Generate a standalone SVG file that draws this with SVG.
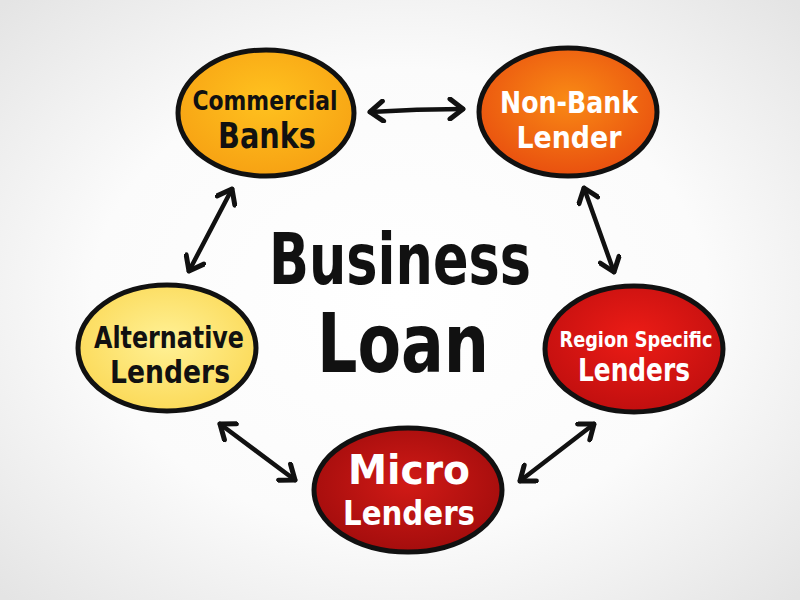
<svg xmlns="http://www.w3.org/2000/svg" width="800" height="600" viewBox="0 0 800 600">
<defs>
<radialGradient id="bg" cx="50%" cy="50%" r="70%">
<stop offset="0" stop-color="#ffffff"/><stop offset="0.55" stop-color="#fbfbfb"/><stop offset="1" stop-color="#e4e4e4"/>
</radialGradient>
<radialGradient id="gOrange" cx="50%" cy="40%" r="60%">
<stop offset="0" stop-color="#ffc21f"/><stop offset="1" stop-color="#f7a213"/>
</radialGradient>
<radialGradient id="gNonBank" cx="50%" cy="40%" r="60%">
<stop offset="0" stop-color="#f98a15"/><stop offset="1" stop-color="#e9500f"/>
</radialGradient>
<radialGradient id="gYellow" cx="50%" cy="45%" r="60%">
<stop offset="0" stop-color="#fff196"/><stop offset="1" stop-color="#fbd854"/>
</radialGradient>
<radialGradient id="gRed" cx="50%" cy="40%" r="60%">
<stop offset="0" stop-color="#ec1c16"/><stop offset="1" stop-color="#c10f0f"/>
</radialGradient>
<radialGradient id="gDark" cx="50%" cy="45%" r="60%">
<stop offset="0" stop-color="#d11a16"/><stop offset="1" stop-color="#a00c0c"/>
</radialGradient>
<marker id="head" viewBox="-16 -12 20 24" refX="0" refY="0" markerUnits="userSpaceOnUse" markerWidth="20" markerHeight="24" orient="auto-start-reverse">
<path d="M-13,-10 L0,0 L-13,10" fill="none" stroke="#111" stroke-width="5" stroke-linecap="round" stroke-linejoin="round"/>
</marker>
</defs>
<style>
.node{stroke:#111;stroke-width:5}
.t{font-family:"Liberation Sans Narrow","DejaVu Sans Condensed","Liberation Sans",sans-serif;font-weight:bold;text-anchor:middle}
.dark{fill:#111}
.light{fill:#ffffff}
.title{font-family:"Liberation Sans Narrow","DejaVu Sans Condensed","Liberation Sans",sans-serif;font-weight:bold;fill:#111;text-anchor:middle}
.arrow{fill:none;stroke:#111;stroke-width:4.5;stroke-linecap:round;marker-start:url(#head);marker-end:url(#head)}
</style>
<rect width="800" height="600" fill="url(#bg)"/>

<g id="connectors">
<path class="arrow" d="M370,112 Q417,109 463,109"/>
<path class="arrow" d="M232,189 L189,271"/>
<path class="arrow" d="M584,188 L614,272"/>
<path class="arrow" d="M220,424 L295,480"/>
<path class="arrow" d="M594,424 L520,481"/>
</g>

<g id="center">
<text class="title" x="400" y="284" font-size="72" textLength="262" lengthAdjust="spacingAndGlyphs">Business</text>
<text class="title" x="403" y="372" font-size="82" textLength="172" lengthAdjust="spacingAndGlyphs">Loan</text>
</g>

<g id="commercial-banks">
<ellipse class="node" cx="266" cy="113" rx="88" ry="63" fill="url(#gOrange)"/>
<text class="t dark" x="265" y="110" font-size="26" textLength="145" lengthAdjust="spacingAndGlyphs">Commercial</text>
<text class="t dark" x="267" y="148" font-size="36" textLength="98" lengthAdjust="spacingAndGlyphs">Banks</text>
</g>

<g id="non-bank-lender">
<ellipse class="node" cx="568" cy="112" rx="89" ry="64" fill="url(#gNonBank)"/>
<text class="t light" x="569" y="113" font-size="30" textLength="138" lengthAdjust="spacingAndGlyphs">Non-Bank</text>
<text class="t light" x="569" y="148" font-size="31" textLength="105" lengthAdjust="spacingAndGlyphs">Lender</text>
</g>

<g id="alternative-lenders">
<ellipse class="node" cx="167" cy="348" rx="89" ry="63" fill="url(#gYellow)"/>
<text class="t dark" x="169" y="348" font-size="30" textLength="150" lengthAdjust="spacingAndGlyphs">Alternative</text>
<text class="t dark" x="170" y="383" font-size="32" textLength="120" lengthAdjust="spacingAndGlyphs">Lenders</text>
</g>

<g id="region-specific-lenders">
<ellipse class="node" cx="634" cy="349" rx="89" ry="63" fill="url(#gRed)"/>
<text class="t light" x="636" y="347" font-size="22" textLength="153" lengthAdjust="spacingAndGlyphs">Region Specific</text>
<text class="t light" x="634" y="381" font-size="32" textLength="112" lengthAdjust="spacingAndGlyphs">Lenders</text>
</g>

<g id="micro-lenders">
<ellipse class="node" cx="408" cy="490" rx="94" ry="62" fill="url(#gDark)"/>
<text class="t light" x="409" y="484" font-size="40" textLength="122" lengthAdjust="spacingAndGlyphs">Micro</text>
<text class="t light" x="409" y="525" font-size="34" textLength="132" lengthAdjust="spacingAndGlyphs">Lenders</text>
</g>
</svg>
